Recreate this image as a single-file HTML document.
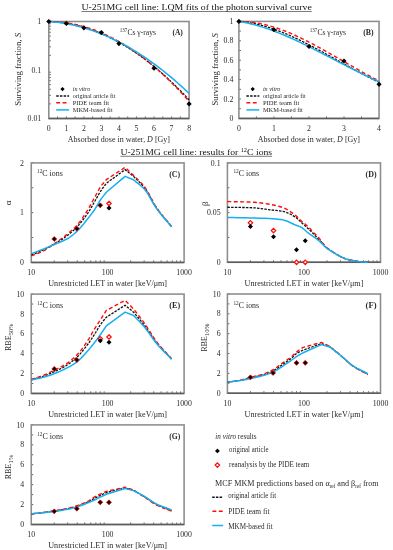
<!DOCTYPE html>
<html><head><meta charset="utf-8"><style>
html,body{margin:0;padding:0;background:#fff;}
svg{display:block;}
svg{font-family:"Liberation Serif", serif;fill:#2a2a2a;}
</style></head><body>
<svg width="393" height="550" viewBox="0 0 393 550">
<rect width="393" height="550" fill="#fff"/>
<text x="196.60" y="10.20" font-size="9.2" text-anchor="middle" textLength="230.4" lengthAdjust="spacingAndGlyphs" fill="#111">U-251MG cell line: LQM fits of the photon survival curve</text>
<line x1="81.40" y1="11.50" x2="311.80" y2="11.50" stroke="#444" stroke-width="0.7"/>
<text x="196.25" y="155.00" font-size="9.2" text-anchor="middle" textLength="151.7" lengthAdjust="spacingAndGlyphs" fill="#111">U-251MG cell line: results for <tspan font-size="6" dy="-3.2">12</tspan><tspan dy="3.2">C ions</tspan></text>
<line x1="120.40" y1="156.30" x2="272.10" y2="156.30" stroke="#444" stroke-width="0.7"/>
<line x1="57.57" y1="118.50" x2="57.57" y2="116.50" stroke="#3a3a3a" stroke-width="0.8"/>
<line x1="66.34" y1="118.50" x2="66.34" y2="116.50" stroke="#3a3a3a" stroke-width="0.8"/>
<line x1="75.11" y1="118.50" x2="75.11" y2="116.50" stroke="#3a3a3a" stroke-width="0.8"/>
<line x1="83.88" y1="118.50" x2="83.88" y2="116.50" stroke="#3a3a3a" stroke-width="0.8"/>
<line x1="92.64" y1="118.50" x2="92.64" y2="116.50" stroke="#3a3a3a" stroke-width="0.8"/>
<line x1="101.41" y1="118.50" x2="101.41" y2="116.50" stroke="#3a3a3a" stroke-width="0.8"/>
<line x1="110.18" y1="118.50" x2="110.18" y2="116.50" stroke="#3a3a3a" stroke-width="0.8"/>
<line x1="118.95" y1="118.50" x2="118.95" y2="116.50" stroke="#3a3a3a" stroke-width="0.8"/>
<line x1="127.72" y1="118.50" x2="127.72" y2="116.50" stroke="#3a3a3a" stroke-width="0.8"/>
<line x1="136.49" y1="118.50" x2="136.49" y2="116.50" stroke="#3a3a3a" stroke-width="0.8"/>
<line x1="145.26" y1="118.50" x2="145.26" y2="116.50" stroke="#3a3a3a" stroke-width="0.8"/>
<line x1="154.03" y1="118.50" x2="154.03" y2="116.50" stroke="#3a3a3a" stroke-width="0.8"/>
<line x1="162.79" y1="118.50" x2="162.79" y2="116.50" stroke="#3a3a3a" stroke-width="0.8"/>
<line x1="171.56" y1="118.50" x2="171.56" y2="116.50" stroke="#3a3a3a" stroke-width="0.8"/>
<line x1="180.33" y1="118.50" x2="180.33" y2="116.50" stroke="#3a3a3a" stroke-width="0.8"/>
<line x1="48.80" y1="103.90" x2="50.80" y2="103.90" stroke="#3a3a3a" stroke-width="0.8"/>
<line x1="48.80" y1="95.36" x2="50.80" y2="95.36" stroke="#3a3a3a" stroke-width="0.8"/>
<line x1="48.80" y1="89.30" x2="50.80" y2="89.30" stroke="#3a3a3a" stroke-width="0.8"/>
<line x1="48.80" y1="84.60" x2="50.80" y2="84.60" stroke="#3a3a3a" stroke-width="0.8"/>
<line x1="48.80" y1="80.76" x2="50.80" y2="80.76" stroke="#3a3a3a" stroke-width="0.8"/>
<line x1="48.80" y1="77.51" x2="50.80" y2="77.51" stroke="#3a3a3a" stroke-width="0.8"/>
<line x1="48.80" y1="74.70" x2="50.80" y2="74.70" stroke="#3a3a3a" stroke-width="0.8"/>
<line x1="48.80" y1="72.22" x2="50.80" y2="72.22" stroke="#3a3a3a" stroke-width="0.8"/>
<line x1="48.80" y1="55.40" x2="50.80" y2="55.40" stroke="#3a3a3a" stroke-width="0.8"/>
<line x1="48.80" y1="46.86" x2="50.80" y2="46.86" stroke="#3a3a3a" stroke-width="0.8"/>
<line x1="48.80" y1="40.80" x2="50.80" y2="40.80" stroke="#3a3a3a" stroke-width="0.8"/>
<line x1="48.80" y1="36.10" x2="50.80" y2="36.10" stroke="#3a3a3a" stroke-width="0.8"/>
<line x1="48.80" y1="32.26" x2="50.80" y2="32.26" stroke="#3a3a3a" stroke-width="0.8"/>
<line x1="48.80" y1="29.01" x2="50.80" y2="29.01" stroke="#3a3a3a" stroke-width="0.8"/>
<line x1="48.80" y1="26.20" x2="50.80" y2="26.20" stroke="#3a3a3a" stroke-width="0.8"/>
<line x1="48.80" y1="23.72" x2="50.80" y2="23.72" stroke="#3a3a3a" stroke-width="0.8"/>
<rect x="48.80" y="21.50" width="140.30" height="97.00" fill="none" stroke="#8c8c8c" stroke-width="1.55"/>
<path d="M48.80 118.50H189.10" fill="none" stroke="#5c5c5c" stroke-width="1.45"/>
<text x="48.80" y="130.60" font-size="7.8" text-anchor="middle">0</text>
<text x="66.34" y="130.60" font-size="7.8" text-anchor="middle">1</text>
<text x="83.88" y="130.60" font-size="7.8" text-anchor="middle">2</text>
<text x="101.41" y="130.60" font-size="7.8" text-anchor="middle">3</text>
<text x="118.95" y="130.60" font-size="7.8" text-anchor="middle">4</text>
<text x="136.49" y="130.60" font-size="7.8" text-anchor="middle">5</text>
<text x="154.03" y="130.60" font-size="7.8" text-anchor="middle">6</text>
<text x="171.56" y="130.60" font-size="7.8" text-anchor="middle">7</text>
<text x="189.10" y="130.60" font-size="7.8" text-anchor="middle">8</text>
<text x="41.20" y="24.10" font-size="7.8" text-anchor="end">1</text>
<text x="41.20" y="72.60" font-size="7.8" text-anchor="end">0.1</text>
<text x="41.20" y="121.10" font-size="7.8" text-anchor="end">0.01</text>
<text x="118.90" y="141.60" font-size="7.9" text-anchor="middle" textLength="102.2" lengthAdjust="spacingAndGlyphs">Absorbed dose in water, <tspan font-style="italic">D</tspan> [Gy]</text>
<text x="0.00" y="0.00" font-size="8.6" text-anchor="middle" textLength="72.8" lengthAdjust="spacingAndGlyphs" transform="translate(21.4 69.3) rotate(-90)">Surviving fraction, <tspan font-style="italic">S</tspan></text>
<text x="119.80" y="34.70" font-size="7.8" textLength="36.2" lengthAdjust="spacingAndGlyphs"><tspan font-size="5.2" dy="-2.9">137</tspan><tspan dy="2.9">Cs γ-rays</tspan></text>
<text x="182.80" y="34.90" font-size="8.5" text-anchor="end" font-weight="bold" textLength="10.4" lengthAdjust="spacingAndGlyphs">(A)</text>
<path d="M62.50 87.00L64.60 89.10L62.50 91.20L60.40 89.10Z" fill="#000" stroke="none" stroke-width="0"/>
<text x="72.70" y="91.20" font-size="7.1" font-style="italic" textLength="17.5" lengthAdjust="spacingAndGlyphs">in vitro</text>
<line x1="56.20" y1="96.00" x2="69.10" y2="96.00" stroke="#111" stroke-width="1.4" stroke-dasharray="2.5,1.2"/>
<text x="72.70" y="98.10" font-size="7.1" textLength="42.7" lengthAdjust="spacingAndGlyphs">original article fit</text>
<line x1="56.20" y1="102.70" x2="69.10" y2="102.70" stroke="#ff0d0d" stroke-width="1.4" stroke-dasharray="3.9,2.5"/>
<text x="72.70" y="104.90" font-size="7.1" textLength="36.5" lengthAdjust="spacingAndGlyphs">PIDE team fit</text>
<line x1="56.20" y1="109.90" x2="69.10" y2="109.90" stroke="#14aff0" stroke-width="1.5"/>
<text x="72.70" y="112.00" font-size="7.1" textLength="40.0" lengthAdjust="spacingAndGlyphs">MKM-based fit</text>
<polyline points="48.80,21.50 50.55,21.57 52.31,21.67 54.06,21.79 55.81,21.93 57.57,22.09 59.32,22.28 61.08,22.49 62.83,22.72 64.58,22.98 66.34,23.26 68.09,23.56 69.84,23.89 71.60,24.23 73.35,24.61 75.11,25.00 76.86,25.42 78.61,25.86 80.37,26.32 82.12,26.80 83.88,27.31 85.63,27.85 87.38,28.40 89.14,28.98 90.89,29.58 92.64,30.20 94.40,30.85 96.15,31.52 97.91,32.21 99.66,32.93 101.41,33.66 103.17,34.43 104.92,35.21 106.67,36.02 108.43,36.85 110.18,37.70 111.94,38.58 113.69,39.48 115.44,40.40 117.20,41.34 118.95,42.31 120.70,43.30 122.46,44.32 124.21,45.35 125.97,46.41 127.72,47.49 129.47,48.60 131.23,49.73 132.98,50.88 134.73,52.06 136.49,53.25 138.24,54.47 140.00,55.72 141.75,56.98 143.50,58.27 145.26,59.59 147.01,60.92 148.76,62.28 150.52,63.66 152.27,65.06 154.03,66.49 155.78,67.94 157.53,69.41 159.29,70.91 161.04,72.43 162.79,73.97 164.55,75.54 166.30,77.12 168.06,78.73 169.81,80.37 171.56,82.03 173.32,83.71 175.07,85.41 176.82,87.13 178.58,88.88 180.33,90.65 182.09,92.45 183.84,94.27 185.59,96.11 187.35,97.97 189.10,99.86" fill="none" stroke="#111" stroke-width="1.3" stroke-linejoin="round" stroke-linecap="butt" stroke-dasharray="2.5,1.2"/>
<polyline points="48.80,21.50 50.55,21.52 52.31,21.56 54.06,21.62 55.81,21.72 57.57,21.83 59.32,21.97 61.08,22.14 62.83,22.33 64.58,22.54 66.34,22.78 68.09,23.05 69.84,23.34 71.60,23.65 73.35,23.99 75.11,24.36 76.86,24.75 78.61,25.16 80.37,25.60 82.12,26.07 83.88,26.56 85.63,27.07 87.38,27.61 89.14,28.17 90.89,28.76 92.64,29.37 94.40,30.01 96.15,30.67 97.91,31.36 99.66,32.07 101.41,32.81 103.17,33.57 104.92,34.36 106.67,35.17 108.43,36.01 110.18,36.87 111.94,37.76 113.69,38.67 115.44,39.61 117.20,40.57 118.95,41.55 120.70,42.56 122.46,43.60 124.21,44.66 125.97,45.74 127.72,46.85 129.47,47.99 131.23,49.15 132.98,50.33 134.73,51.54 136.49,52.78 138.24,54.04 140.00,55.32 141.75,56.63 143.50,57.97 145.26,59.32 147.01,60.71 148.76,62.12 150.52,63.55 152.27,65.01 154.03,66.49 155.78,68.00 157.53,69.53 159.29,71.09 161.04,72.67 162.79,74.28 164.55,75.91 166.30,77.57 168.06,79.25 169.81,80.96 171.56,82.69 173.32,84.45 175.07,86.23 176.82,88.03 178.58,89.86 180.33,91.72 182.09,93.60 183.84,95.51 185.59,97.44 187.35,99.39 189.10,101.37" fill="none" stroke="#ff0d0d" stroke-width="1.4" stroke-linejoin="round" stroke-linecap="butt" stroke-dasharray="3.9,2.5"/>
<polyline points="48.80,21.50 50.55,21.63 52.31,21.79 54.06,21.96 55.81,22.15 57.57,22.36 59.32,22.59 61.08,22.84 62.83,23.11 64.58,23.40 66.34,23.71 68.09,24.04 69.84,24.39 71.60,24.75 73.35,25.14 75.11,25.54 76.86,25.97 78.61,26.41 80.37,26.88 82.12,27.36 83.88,27.86 85.63,28.38 87.38,28.92 89.14,29.48 90.89,30.06 92.64,30.66 94.40,31.28 96.15,31.92 97.91,32.58 99.66,33.25 101.41,33.95 103.17,34.66 104.92,35.40 106.67,36.15 108.43,36.93 110.18,37.72 111.94,38.53 113.69,39.36 115.44,40.21 117.20,41.08 118.95,41.97 120.70,42.88 122.46,43.81 124.21,44.76 125.97,45.73 127.72,46.71 129.47,47.72 131.23,48.74 132.98,49.79 134.73,50.85 136.49,51.94 138.24,53.04 140.00,54.16 141.75,55.30 143.50,56.46 145.26,57.64 147.01,58.84 148.76,60.06 150.52,61.30 152.27,62.56 154.03,63.84 155.78,65.13 157.53,66.45 159.29,67.79 161.04,69.14 162.79,70.51 164.55,71.91 166.30,73.32 168.06,74.75 169.81,76.20 171.56,77.68 173.32,79.17 175.07,80.68 176.82,82.21 178.58,83.75 180.33,85.32 182.09,86.91 183.84,88.52 185.59,90.14 187.35,91.79 189.10,93.45" fill="none" stroke="#14aff0" stroke-width="1.5" stroke-linejoin="round" stroke-linecap="butt"/>
<path d="M48.80 18.90L51.40 21.50L48.80 24.10L46.20 21.50Z" fill="#000" stroke="none" stroke-width="0"/>
<path d="M66.34 20.79L68.94 23.39L66.34 25.99L63.74 23.39Z" fill="#000" stroke="none" stroke-width="0"/>
<path d="M83.88 25.24L86.47 27.84L83.88 30.44L81.28 27.84Z" fill="#000" stroke="none" stroke-width="0"/>
<path d="M101.41 30.01L104.01 32.61L101.41 35.21L98.81 32.61Z" fill="#000" stroke="none" stroke-width="0"/>
<path d="M118.95 41.01L121.55 43.61L118.95 46.21L116.35 43.61Z" fill="#000" stroke="none" stroke-width="0"/>
<path d="M154.03 65.58L156.62 68.18L154.03 70.78L151.43 68.18Z" fill="#000" stroke="none" stroke-width="0"/>
<path d="M189.10 101.30L191.70 103.90L189.10 106.50L186.50 103.90Z" fill="#000" stroke="none" stroke-width="0"/>
<line x1="256.42" y1="118.40" x2="256.42" y2="116.40" stroke="#3a3a3a" stroke-width="0.8"/>
<line x1="273.94" y1="118.40" x2="273.94" y2="116.40" stroke="#3a3a3a" stroke-width="0.8"/>
<line x1="291.46" y1="118.40" x2="291.46" y2="116.40" stroke="#3a3a3a" stroke-width="0.8"/>
<line x1="308.98" y1="118.40" x2="308.98" y2="116.40" stroke="#3a3a3a" stroke-width="0.8"/>
<line x1="326.49" y1="118.40" x2="326.49" y2="116.40" stroke="#3a3a3a" stroke-width="0.8"/>
<line x1="344.01" y1="118.40" x2="344.01" y2="116.40" stroke="#3a3a3a" stroke-width="0.8"/>
<line x1="361.53" y1="118.40" x2="361.53" y2="116.40" stroke="#3a3a3a" stroke-width="0.8"/>
<line x1="238.90" y1="108.70" x2="240.90" y2="108.70" stroke="#3a3a3a" stroke-width="0.8"/>
<line x1="238.90" y1="99.00" x2="240.90" y2="99.00" stroke="#3a3a3a" stroke-width="0.8"/>
<line x1="238.90" y1="89.30" x2="240.90" y2="89.30" stroke="#3a3a3a" stroke-width="0.8"/>
<line x1="238.90" y1="79.60" x2="240.90" y2="79.60" stroke="#3a3a3a" stroke-width="0.8"/>
<line x1="238.90" y1="69.90" x2="240.90" y2="69.90" stroke="#3a3a3a" stroke-width="0.8"/>
<line x1="238.90" y1="60.20" x2="240.90" y2="60.20" stroke="#3a3a3a" stroke-width="0.8"/>
<line x1="238.90" y1="50.50" x2="240.90" y2="50.50" stroke="#3a3a3a" stroke-width="0.8"/>
<line x1="238.90" y1="40.80" x2="240.90" y2="40.80" stroke="#3a3a3a" stroke-width="0.8"/>
<line x1="238.90" y1="31.10" x2="240.90" y2="31.10" stroke="#3a3a3a" stroke-width="0.8"/>
<rect x="238.90" y="21.40" width="140.15" height="97.00" fill="none" stroke="#8c8c8c" stroke-width="1.55"/>
<path d="M238.90 118.40H379.05" fill="none" stroke="#5c5c5c" stroke-width="1.45"/>
<text x="238.90" y="130.60" font-size="7.8" text-anchor="middle">0</text>
<text x="273.94" y="130.60" font-size="7.8" text-anchor="middle">1</text>
<text x="308.98" y="130.60" font-size="7.8" text-anchor="middle">2</text>
<text x="344.01" y="130.60" font-size="7.8" text-anchor="middle">3</text>
<text x="379.05" y="130.60" font-size="7.8" text-anchor="middle">4</text>
<text x="233.30" y="24.00" font-size="7.8" text-anchor="end">1</text>
<text x="233.30" y="43.40" font-size="7.8" text-anchor="end">0.8</text>
<text x="233.30" y="62.80" font-size="7.8" text-anchor="end">0.6</text>
<text x="233.30" y="82.20" font-size="7.8" text-anchor="end">0.4</text>
<text x="233.30" y="101.60" font-size="7.8" text-anchor="end">0.2</text>
<text x="233.30" y="121.00" font-size="7.8" text-anchor="end">0</text>
<text x="308.90" y="141.60" font-size="7.9" text-anchor="middle" textLength="102.2" lengthAdjust="spacingAndGlyphs">Absorbed dose in water, <tspan font-style="italic">D</tspan> [Gy]</text>
<text x="0.00" y="0.00" font-size="8.6" text-anchor="middle" textLength="72.4" lengthAdjust="spacingAndGlyphs" transform="translate(218.3 69.3) rotate(-90)">Surviving fraction, <tspan font-style="italic">S</tspan></text>
<text x="309.80" y="34.70" font-size="7.8" textLength="36.2" lengthAdjust="spacingAndGlyphs"><tspan font-size="5.2" dy="-2.9">137</tspan><tspan dy="2.9">Cs γ-rays</tspan></text>
<text x="373.60" y="34.90" font-size="8.5" text-anchor="end" font-weight="bold" textLength="10.4" lengthAdjust="spacingAndGlyphs">(B)</text>
<path d="M252.70 87.00L254.80 89.10L252.70 91.20L250.60 89.10Z" fill="#000" stroke="none" stroke-width="0"/>
<text x="262.90" y="91.20" font-size="7.1" font-style="italic" textLength="17.5" lengthAdjust="spacingAndGlyphs">in vitro</text>
<line x1="246.40" y1="96.00" x2="259.30" y2="96.00" stroke="#111" stroke-width="1.4" stroke-dasharray="2.5,1.2"/>
<text x="262.90" y="98.10" font-size="7.1" textLength="42.7" lengthAdjust="spacingAndGlyphs">original article fit</text>
<line x1="246.40" y1="102.70" x2="259.30" y2="102.70" stroke="#ff0d0d" stroke-width="1.4" stroke-dasharray="3.9,2.5"/>
<text x="262.90" y="104.90" font-size="7.1" textLength="36.5" lengthAdjust="spacingAndGlyphs">PIDE team fit</text>
<line x1="246.40" y1="109.90" x2="259.30" y2="109.90" stroke="#14aff0" stroke-width="1.5"/>
<text x="262.90" y="112.00" font-size="7.1" textLength="40.0" lengthAdjust="spacingAndGlyphs">MKM-based fit</text>
<polyline points="238.90,21.40 240.65,21.55 242.40,21.73 244.16,21.94 245.91,22.17 247.66,22.43 249.41,22.71 251.16,23.02 252.92,23.35 254.67,23.71 256.42,24.09 258.17,24.50 259.92,24.93 261.67,25.38 263.43,25.85 265.18,26.35 266.93,26.87 268.68,27.42 270.43,27.98 272.19,28.56 273.94,29.17 275.69,29.80 277.44,30.44 279.19,31.11 280.94,31.79 282.70,32.49 284.45,33.21 286.20,33.94 287.95,34.70 289.70,35.46 291.46,36.25 293.21,37.04 294.96,37.86 296.71,38.68 298.46,39.52 300.22,40.37 301.97,41.24 303.72,42.11 305.47,43.00 307.22,43.89 308.98,44.80 310.73,45.71 312.48,46.63 314.23,47.56 315.98,48.50 317.73,49.44 319.49,50.39 321.24,51.34 322.99,52.30 324.74,53.26 326.49,54.23 328.25,55.20 330.00,56.17 331.75,57.14 333.50,58.11 335.25,59.09 337.00,60.06 338.76,61.04 340.51,62.01 342.26,62.98 344.01,63.95 345.76,64.92 347.52,65.89 349.27,66.85 351.02,67.81 352.77,68.76 354.52,69.71 356.28,70.65 358.03,71.59 359.78,72.52 361.53,73.45 363.28,74.37 365.04,75.28 366.79,76.18 368.54,77.08 370.29,77.97 372.04,78.85 373.79,79.72 375.55,80.59 377.30,81.44 379.05,82.28" fill="none" stroke="#111" stroke-width="1.3" stroke-linejoin="round" stroke-linecap="butt" stroke-dasharray="2.5,1.2"/>
<polyline points="238.90,21.40 240.65,21.42 242.40,21.48 244.16,21.56 245.91,21.67 247.66,21.81 249.41,21.97 251.16,22.17 252.92,22.39 254.67,22.64 256.42,22.92 258.17,23.22 259.92,23.55 261.67,23.91 263.43,24.30 265.18,24.71 266.93,25.14 268.68,25.61 270.43,26.09 272.19,26.60 273.94,27.14 275.69,27.70 277.44,28.28 279.19,28.89 280.94,29.51 282.70,30.16 284.45,30.83 286.20,31.52 287.95,32.23 289.70,32.96 291.46,33.71 293.21,34.48 294.96,35.26 296.71,36.07 298.46,36.88 300.22,37.72 301.97,38.57 303.72,39.43 305.47,40.31 307.22,41.20 308.98,42.10 310.73,43.01 312.48,43.94 314.23,44.87 315.98,45.82 317.73,46.77 319.49,47.73 321.24,48.70 322.99,49.68 324.74,50.66 326.49,51.65 328.25,52.64 330.00,53.64 331.75,54.64 333.50,55.65 335.25,56.65 337.00,57.66 338.76,58.67 340.51,59.68 342.26,60.69 344.01,61.70 345.76,62.71 347.52,63.72 349.27,64.72 351.02,65.72 352.77,66.72 354.52,67.72 356.28,68.71 358.03,69.69 359.78,70.67 361.53,71.64 363.28,72.61 365.04,73.57 366.79,74.52 368.54,75.47 370.29,76.41 372.04,77.34 373.79,78.26 375.55,79.17 377.30,80.07 379.05,80.96" fill="none" stroke="#ff0d0d" stroke-width="1.4" stroke-linejoin="round" stroke-linecap="butt" stroke-dasharray="3.9,2.5"/>
<polyline points="238.90,21.40 240.65,21.70 242.40,22.01 244.16,22.35 245.91,22.71 247.66,23.09 249.41,23.50 251.16,23.92 252.92,24.36 254.67,24.82 256.42,25.30 258.17,25.79 259.92,26.31 261.67,26.85 263.43,27.40 265.18,27.97 266.93,28.56 268.68,29.16 270.43,29.78 272.19,30.42 273.94,31.07 275.69,31.74 277.44,32.42 279.19,33.11 280.94,33.82 282.70,34.55 284.45,35.28 286.20,36.03 287.95,36.79 289.70,37.56 291.46,38.35 293.21,39.14 294.96,39.94 296.71,40.76 298.46,41.58 300.22,42.41 301.97,43.25 303.72,44.10 305.47,44.95 307.22,45.82 308.98,46.68 310.73,47.56 312.48,48.44 314.23,49.32 315.98,50.21 317.73,51.10 319.49,52.00 321.24,52.90 322.99,53.80 324.74,54.71 326.49,55.62 328.25,56.52 330.00,57.43 331.75,58.34 333.50,59.25 335.25,60.16 337.00,61.07 338.76,61.97 340.51,62.88 342.26,63.78 344.01,64.68 345.76,65.58 347.52,66.48 349.27,67.37 351.02,68.26 352.77,69.14 354.52,70.02 356.28,70.90 358.03,71.77 359.78,72.63 361.53,73.49 363.28,74.34 365.04,75.19 366.79,76.03 368.54,76.86 370.29,77.69 372.04,78.50 373.79,79.32 375.55,80.12 377.30,80.91 379.05,81.70" fill="none" stroke="#14aff0" stroke-width="1.5" stroke-linejoin="round" stroke-linecap="butt"/>
<path d="M238.90 18.80L241.50 21.40L238.90 24.00L236.30 21.40Z" fill="#000" stroke="none" stroke-width="0"/>
<path d="M273.94 27.14L276.54 29.74L273.94 32.34L271.34 29.74Z" fill="#000" stroke="none" stroke-width="0"/>
<path d="M308.98 43.92L311.58 46.52L308.98 49.12L306.38 46.52Z" fill="#000" stroke="none" stroke-width="0"/>
<path d="M344.01 58.38L346.61 60.98L344.01 63.58L341.41 60.98Z" fill="#000" stroke="none" stroke-width="0"/>
<path d="M379.05 81.75L381.65 84.35L379.05 86.95L376.45 84.35Z" fill="#000" stroke="none" stroke-width="0"/>
<line x1="54.26" y1="262.40" x2="54.26" y2="260.40" stroke="#3a3a3a" stroke-width="0.8"/>
<line x1="67.71" y1="262.40" x2="67.71" y2="260.40" stroke="#3a3a3a" stroke-width="0.8"/>
<line x1="77.26" y1="262.40" x2="77.26" y2="260.40" stroke="#3a3a3a" stroke-width="0.8"/>
<line x1="84.67" y1="262.40" x2="84.67" y2="260.40" stroke="#3a3a3a" stroke-width="0.8"/>
<line x1="90.72" y1="262.40" x2="90.72" y2="260.40" stroke="#3a3a3a" stroke-width="0.8"/>
<line x1="95.84" y1="262.40" x2="95.84" y2="260.40" stroke="#3a3a3a" stroke-width="0.8"/>
<line x1="100.27" y1="262.40" x2="100.27" y2="260.40" stroke="#3a3a3a" stroke-width="0.8"/>
<line x1="104.18" y1="262.40" x2="104.18" y2="260.40" stroke="#3a3a3a" stroke-width="0.8"/>
<line x1="130.68" y1="262.40" x2="130.68" y2="260.40" stroke="#3a3a3a" stroke-width="0.8"/>
<line x1="144.14" y1="262.40" x2="144.14" y2="260.40" stroke="#3a3a3a" stroke-width="0.8"/>
<line x1="153.69" y1="262.40" x2="153.69" y2="260.40" stroke="#3a3a3a" stroke-width="0.8"/>
<line x1="161.09" y1="262.40" x2="161.09" y2="260.40" stroke="#3a3a3a" stroke-width="0.8"/>
<line x1="167.15" y1="262.40" x2="167.15" y2="260.40" stroke="#3a3a3a" stroke-width="0.8"/>
<line x1="172.26" y1="262.40" x2="172.26" y2="260.40" stroke="#3a3a3a" stroke-width="0.8"/>
<line x1="176.69" y1="262.40" x2="176.69" y2="260.40" stroke="#3a3a3a" stroke-width="0.8"/>
<line x1="180.60" y1="262.40" x2="180.60" y2="260.40" stroke="#3a3a3a" stroke-width="0.8"/>
<line x1="31.25" y1="237.52" x2="33.25" y2="237.52" stroke="#3a3a3a" stroke-width="0.8"/>
<line x1="31.25" y1="187.78" x2="33.25" y2="187.78" stroke="#3a3a3a" stroke-width="0.8"/>
<line x1="31.25" y1="262.40" x2="33.25" y2="262.40" stroke="#3a3a3a" stroke-width="0.8"/>
<line x1="31.25" y1="212.65" x2="33.25" y2="212.65" stroke="#3a3a3a" stroke-width="0.8"/>
<line x1="31.25" y1="162.90" x2="33.25" y2="162.90" stroke="#3a3a3a" stroke-width="0.8"/>
<rect x="31.25" y="162.90" width="152.85" height="99.50" fill="none" stroke="#8c8c8c" stroke-width="1.55"/>
<path d="M31.25 262.40H184.10" fill="none" stroke="#5c5c5c" stroke-width="1.45"/>
<text x="31.25" y="274.90" font-size="7.8" text-anchor="middle">10</text>
<text x="107.67" y="274.90" font-size="7.8" text-anchor="middle">100</text>
<text x="184.10" y="274.90" font-size="7.8" text-anchor="middle">1000</text>
<text x="24.00" y="265.00" font-size="7.8" text-anchor="end">0</text>
<text x="24.00" y="215.25" font-size="7.8" text-anchor="end">1</text>
<text x="24.00" y="165.50" font-size="7.8" text-anchor="end">2</text>
<text x="107.67" y="285.90" font-size="7.9" text-anchor="middle" textLength="118.8" lengthAdjust="spacingAndGlyphs">Unrestricted LET in water [keV/μm]</text>
<text x="0.00" y="0.00" font-size="9" text-anchor="middle" transform="translate(11.2 202.9) rotate(-90)">α</text>
<text x="37.00" y="176.30" font-size="7.8" textLength="25.8" lengthAdjust="spacingAndGlyphs"><tspan font-size="5.2" dy="-2.9">12</tspan><tspan dy="2.9">C ions</tspan></text>
<text x="180.20" y="176.50" font-size="8.5" text-anchor="end" font-weight="bold" textLength="11.0" lengthAdjust="spacingAndGlyphs">(C)</text>
<polyline points="31.25,254.94 32.65,254.39 34.04,253.85 35.44,253.32 36.83,252.78 38.23,252.24 39.63,251.67 41.02,251.08 42.42,250.46 43.90,249.75 45.38,249.01 46.86,248.23 48.34,247.42 49.82,246.58 51.30,245.73 52.78,244.87 54.26,243.99 55.94,243.00 57.62,242.00 59.30,240.98 60.99,239.93 62.67,238.85 64.35,237.72 66.03,236.54 67.71,235.29 68.91,234.35 70.10,233.37 71.29,232.35 72.49,231.28 73.68,230.17 74.88,229.02 76.07,227.82 77.26,226.58 78.58,225.14 79.90,223.63 81.23,222.05 82.55,220.40 83.87,218.69 85.19,216.90 86.51,215.06 87.83,213.15 88.71,211.81 89.59,210.40 90.47,208.92 91.35,207.40 92.23,205.86 93.11,204.30 93.99,202.74 94.87,201.21 95.55,200.03 96.22,198.82 96.90,197.59 97.57,196.37 98.25,195.16 98.92,193.98 99.59,192.84 100.27,191.75 101.03,190.60 101.78,189.50 102.54,188.44 103.29,187.40 104.05,186.38 104.81,185.37 105.56,184.34 106.32,183.30 125.09,169.62 133.54,176.33 134.91,177.73 136.27,179.07 137.64,180.40 139.01,181.73 140.37,183.10 141.74,184.55 143.10,186.10 144.47,187.78 145.99,189.91 147.51,192.34 149.03,194.99 150.55,197.75 152.07,200.54 153.59,203.27 155.10,205.84 156.62,208.17 158.48,210.75 160.34,213.18 162.20,215.50 164.06,217.74 165.92,219.93 167.78,222.11 169.64,224.32 171.49,226.58" fill="none" stroke="#111" stroke-width="1.3" stroke-linejoin="round" stroke-linecap="butt" stroke-dasharray="2.5,1.2"/>
<polyline points="31.25,255.93 32.65,255.39 34.04,254.86 35.44,254.35 36.83,253.83 38.23,253.29 39.63,252.72 41.02,252.12 42.42,251.45 43.90,250.67 45.38,249.81 46.86,248.88 48.34,247.89 49.82,246.87 51.30,245.83 52.78,244.78 54.26,243.74 55.94,242.58 57.62,241.41 59.30,240.22 60.99,239.01 62.67,237.76 64.35,236.49 66.03,235.17 67.71,233.79 68.91,232.80 70.10,231.78 71.29,230.74 72.49,229.67 73.68,228.55 74.88,227.38 76.07,226.15 77.26,224.84 78.58,223.28 79.90,221.59 81.23,219.78 82.55,217.89 83.87,215.91 85.19,213.87 86.51,211.78 87.83,209.66 88.71,208.21 89.59,206.68 90.47,205.10 91.35,203.49 92.23,201.85 93.11,200.21 93.99,198.58 94.87,196.98 95.55,195.74 96.22,194.48 96.90,193.20 97.57,191.92 98.25,190.68 98.92,189.47 99.59,188.33 100.27,187.28 101.03,186.18 101.78,185.16 102.54,184.19 103.29,183.25 104.05,182.34 104.81,181.43 105.56,180.51 106.32,179.57 125.09,167.38 133.54,175.34 134.91,176.73 136.27,178.07 137.64,179.39 139.01,180.72 140.37,182.09 141.74,183.54 143.10,185.09 144.47,186.78 145.99,188.94 147.51,191.43 149.03,194.14 150.55,196.98 152.07,199.85 153.59,202.66 155.10,205.30 156.62,207.67 158.48,210.30 160.34,212.76 162.20,215.11 164.06,217.38 165.92,219.60 167.78,221.81 169.64,224.04 171.49,226.33" fill="none" stroke="#ff0d0d" stroke-width="1.4" stroke-linejoin="round" stroke-linecap="butt" stroke-dasharray="3.9,2.5"/>
<polyline points="31.25,253.69 32.65,253.17 34.04,252.65 35.44,252.13 36.83,251.61 38.23,251.08 39.63,250.55 41.02,250.01 42.42,249.46 43.90,248.87 45.38,248.26 46.86,247.65 48.34,247.03 49.82,246.40 51.30,245.76 52.78,245.13 54.26,244.49 55.94,243.78 57.62,243.10 59.30,242.43 60.99,241.75 62.67,241.03 64.35,240.27 66.03,239.44 67.71,238.52 68.91,237.80 70.10,237.00 71.29,236.14 72.49,235.22 73.68,234.25 74.88,233.22 76.07,232.16 77.26,231.06 78.58,229.76 79.90,228.35 81.23,226.84 82.55,225.27 83.87,223.64 85.19,221.97 86.51,220.29 87.83,218.62 88.71,217.51 89.59,216.39 90.47,215.25 91.35,214.10 92.23,212.92 93.11,211.71 93.99,210.46 94.87,209.17 95.55,208.12 96.22,207.01 96.90,205.85 97.57,204.68 98.25,203.50 98.92,202.35 99.59,201.25 100.27,200.21 101.03,199.13 101.78,198.09 102.54,197.09 103.29,196.11 104.05,195.15 104.81,194.20 105.56,193.23 106.32,192.25 125.09,176.33 133.54,179.81 134.91,180.96 136.27,182.05 137.64,183.12 139.01,184.20 140.37,185.32 141.74,186.52 143.10,187.82 144.47,189.27 145.99,191.17 147.51,193.42 149.03,195.92 150.55,198.56 152.07,201.26 153.59,203.91 155.10,206.41 156.62,208.67 158.48,211.17 160.34,213.53 162.20,215.80 164.06,218.00 165.92,220.15 167.78,222.30 169.64,224.46 171.49,226.68" fill="none" stroke="#14aff0" stroke-width="1.5" stroke-linejoin="round" stroke-linecap="butt"/>
<path d="M108.98 201.30L111.18 203.50L108.98 205.70L106.78 203.50Z" fill="#fff" stroke="#ff0d0d" stroke-width="1.25"/>
<path d="M108.98 205.52L111.48 208.02L108.98 210.52L106.48 208.02Z" fill="#000" stroke="none" stroke-width="0"/>
<path d="M54.26 236.42L56.86 239.02L54.26 241.62L51.66 239.02Z" fill="#000" stroke="none" stroke-width="0"/>
<path d="M54.26 236.62L56.66 239.02L54.26 241.42L51.86 239.02Z" fill="none" stroke="#ff0d0d" stroke-width="0.8"/>
<path d="M76.84 226.12L79.44 228.72L76.84 231.32L74.24 228.72Z" fill="#000" stroke="none" stroke-width="0"/>
<path d="M76.84 226.32L79.24 228.72L76.84 231.12L74.44 228.72Z" fill="none" stroke="#ff0d0d" stroke-width="0.8"/>
<path d="M100.27 202.69L102.87 205.29L100.27 207.89L97.67 205.29Z" fill="#000" stroke="none" stroke-width="0"/>
<path d="M100.27 202.89L102.67 205.29L100.27 207.69L97.87 205.29Z" fill="none" stroke="#ff0d0d" stroke-width="0.8"/>
<line x1="250.44" y1="262.30" x2="250.44" y2="260.30" stroke="#3a3a3a" stroke-width="0.8"/>
<line x1="263.92" y1="262.30" x2="263.92" y2="260.30" stroke="#3a3a3a" stroke-width="0.8"/>
<line x1="273.49" y1="262.30" x2="273.49" y2="260.30" stroke="#3a3a3a" stroke-width="0.8"/>
<line x1="280.91" y1="262.30" x2="280.91" y2="260.30" stroke="#3a3a3a" stroke-width="0.8"/>
<line x1="286.97" y1="262.30" x2="286.97" y2="260.30" stroke="#3a3a3a" stroke-width="0.8"/>
<line x1="292.09" y1="262.30" x2="292.09" y2="260.30" stroke="#3a3a3a" stroke-width="0.8"/>
<line x1="296.53" y1="262.30" x2="296.53" y2="260.30" stroke="#3a3a3a" stroke-width="0.8"/>
<line x1="300.45" y1="262.30" x2="300.45" y2="260.30" stroke="#3a3a3a" stroke-width="0.8"/>
<line x1="326.99" y1="262.30" x2="326.99" y2="260.30" stroke="#3a3a3a" stroke-width="0.8"/>
<line x1="340.47" y1="262.30" x2="340.47" y2="260.30" stroke="#3a3a3a" stroke-width="0.8"/>
<line x1="350.04" y1="262.30" x2="350.04" y2="260.30" stroke="#3a3a3a" stroke-width="0.8"/>
<line x1="357.46" y1="262.30" x2="357.46" y2="260.30" stroke="#3a3a3a" stroke-width="0.8"/>
<line x1="363.52" y1="262.30" x2="363.52" y2="260.30" stroke="#3a3a3a" stroke-width="0.8"/>
<line x1="368.64" y1="262.30" x2="368.64" y2="260.30" stroke="#3a3a3a" stroke-width="0.8"/>
<line x1="373.08" y1="262.30" x2="373.08" y2="260.30" stroke="#3a3a3a" stroke-width="0.8"/>
<line x1="377.00" y1="262.30" x2="377.00" y2="260.30" stroke="#3a3a3a" stroke-width="0.8"/>
<line x1="227.40" y1="237.45" x2="229.40" y2="237.45" stroke="#3a3a3a" stroke-width="0.8"/>
<line x1="227.40" y1="187.75" x2="229.40" y2="187.75" stroke="#3a3a3a" stroke-width="0.8"/>
<line x1="227.40" y1="262.30" x2="229.40" y2="262.30" stroke="#3a3a3a" stroke-width="0.8"/>
<line x1="227.40" y1="212.60" x2="229.40" y2="212.60" stroke="#3a3a3a" stroke-width="0.8"/>
<line x1="227.40" y1="162.90" x2="229.40" y2="162.90" stroke="#3a3a3a" stroke-width="0.8"/>
<rect x="227.40" y="162.90" width="153.10" height="99.40" fill="none" stroke="#8c8c8c" stroke-width="1.55"/>
<path d="M227.40 262.30H380.50" fill="none" stroke="#5c5c5c" stroke-width="1.45"/>
<text x="227.40" y="274.90" font-size="7.8" text-anchor="middle">10</text>
<text x="303.95" y="274.90" font-size="7.8" text-anchor="middle">100</text>
<text x="380.50" y="274.90" font-size="7.8" text-anchor="middle">1000</text>
<text x="220.60" y="264.90" font-size="7.8" text-anchor="end">0</text>
<text x="220.60" y="215.20" font-size="7.8" text-anchor="end">0.05</text>
<text x="220.60" y="165.50" font-size="7.8" text-anchor="end">0.1</text>
<text x="303.95" y="285.90" font-size="7.9" text-anchor="middle" textLength="118.8" lengthAdjust="spacingAndGlyphs">Unrestricted LET in water [keV/μm]</text>
<text x="0.00" y="0.00" font-size="9" text-anchor="middle" transform="translate(208.2 203.6) rotate(-90)">β</text>
<text x="233.40" y="176.30" font-size="7.8" textLength="25.8" lengthAdjust="spacingAndGlyphs"><tspan font-size="5.2" dy="-2.9">12</tspan><tspan dy="2.9">C ions</tspan></text>
<text x="376.60" y="176.50" font-size="8.5" text-anchor="end" font-weight="bold" textLength="11.0" lengthAdjust="spacingAndGlyphs">(D)</text>
<polyline points="227.40,207.23 230.50,207.29 233.61,207.34 236.71,207.38 239.81,207.43 242.91,207.49 246.02,207.55 249.12,207.63 252.22,207.73 254.44,207.85 256.66,208.05 258.88,208.30 261.10,208.59 263.32,208.91 265.54,209.23 267.76,209.54 269.98,209.82 271.58,209.99 273.17,210.15 274.76,210.30 276.35,210.45 277.94,210.62 279.53,210.81 281.13,211.04 282.72,211.31 284.29,211.67 285.86,212.17 287.44,212.78 289.01,213.49 290.58,214.29 292.16,215.17 293.73,216.10 295.30,217.07 296.07,217.60 296.83,218.21 297.59,218.88 298.35,219.60 299.11,220.35 299.87,221.10 300.63,221.83 301.39,222.54 302.25,223.31 303.11,224.07 303.96,224.82 304.82,225.58 305.68,226.35 306.53,227.12 307.39,227.90 308.25,228.70 308.98,229.39 309.71,230.09 310.44,230.80 311.17,231.51 311.90,232.23 312.64,232.97 313.37,233.71 314.10,234.47 314.62,235.02 315.13,235.59 315.65,236.18 316.17,236.76 316.69,237.35 317.20,237.93 317.72,238.50 318.24,239.04 318.68,239.48 319.12,239.90 319.56,240.31 320.00,240.72 320.44,241.12 320.88,241.54 321.33,241.97 321.77,242.42 322.23,242.94 322.69,243.50 323.15,244.08 323.61,244.67 324.08,245.26 324.54,245.82 325.00,246.34 325.46,246.79 326.43,247.64 327.40,248.42 328.36,249.14 329.33,249.82 330.29,250.46 331.26,251.07 332.23,251.67 333.19,252.26 334.66,253.17 336.13,254.07 337.59,254.95 339.06,255.80 340.53,256.59 341.99,257.32 343.46,257.97 344.93,258.52 346.00,258.87 347.07,259.20 348.14,259.50 349.22,259.77 350.29,260.03 351.36,260.27 352.43,260.50 353.51,260.71 354.47,260.89 355.44,261.07 356.40,261.25 357.37,261.41 358.33,261.56 359.29,261.69 360.26,261.81 361.22,261.90 362.05,261.97 362.87,262.03 363.70,262.08 364.52,262.12 365.35,262.17 366.17,262.21 367.00,262.25 367.82,262.30" fill="none" stroke="#111" stroke-width="1.3" stroke-linejoin="round" stroke-linecap="butt" stroke-dasharray="2.5,1.2"/>
<polyline points="227.40,201.57 230.50,201.64 233.61,201.70 236.71,201.75 239.81,201.81 242.91,201.87 246.02,201.95 249.12,202.05 252.22,202.16 254.44,202.29 256.66,202.47 258.88,202.70 261.10,202.98 263.32,203.29 265.54,203.62 267.76,203.98 269.98,204.35 271.58,204.63 273.17,204.94 274.76,205.27 276.35,205.64 277.94,206.05 279.53,206.50 281.13,206.99 282.72,207.53 284.29,208.16 285.86,208.92 287.44,209.80 289.01,210.77 290.58,211.82 292.16,212.94 293.73,214.10 295.30,215.28 296.07,215.90 296.83,216.56 297.59,217.28 298.35,218.02 299.11,218.77 299.87,219.52 300.63,220.25 301.39,220.95 302.25,221.70 303.11,222.42 303.96,223.13 304.82,223.83 305.68,224.54 306.53,225.27 307.39,226.02 308.25,226.81 308.98,227.54 309.71,228.30 310.44,229.09 311.17,229.90 311.90,230.72 312.64,231.53 313.37,232.32 314.10,233.08 314.62,233.58 315.13,234.06 315.65,234.53 316.17,235.00 316.69,235.47 317.20,235.96 317.72,236.49 318.24,237.05 318.68,237.58 319.12,238.16 319.56,238.78 320.00,239.42 320.44,240.07 320.88,240.71 321.33,241.33 321.77,241.92 322.23,242.52 322.69,243.13 323.15,243.73 323.61,244.32 324.08,244.89 324.54,245.43 325.00,245.93 325.46,246.40 326.43,247.28 327.40,248.10 328.36,248.86 329.33,249.58 330.29,250.26 331.26,250.91 332.23,251.54 333.19,252.16 334.66,253.09 336.13,254.02 337.59,254.91 339.06,255.77 340.53,256.58 341.99,257.32 343.46,257.97 344.93,258.52 346.00,258.87 347.07,259.20 348.14,259.50 349.22,259.78 350.29,260.03 351.36,260.27 352.43,260.50 353.51,260.71 354.47,260.89 355.44,261.07 356.40,261.25 357.37,261.41 358.33,261.56 359.29,261.69 360.26,261.81 361.22,261.90 362.05,261.97 362.87,262.03 363.70,262.08 364.52,262.12 365.35,262.17 366.17,262.21 367.00,262.25 367.82,262.30" fill="none" stroke="#ff0d0d" stroke-width="1.4" stroke-linejoin="round" stroke-linecap="butt" stroke-dasharray="3.9,2.5"/>
<polyline points="227.40,217.47 230.50,217.53 233.61,217.59 236.71,217.65 239.81,217.70 242.91,217.76 246.02,217.82 249.12,217.89 252.22,217.97 254.44,218.02 256.66,218.08 258.88,218.14 261.10,218.21 263.32,218.28 265.54,218.36 267.76,218.46 269.98,218.56 271.58,218.65 273.17,218.76 274.76,218.89 276.35,219.03 277.94,219.20 279.53,219.39 281.13,219.61 282.72,219.86 284.29,220.20 285.86,220.70 287.44,221.31 289.01,222.01 290.58,222.75 292.16,223.51 293.73,224.25 295.30,224.93 296.07,225.22 296.83,225.51 297.59,225.78 298.35,226.07 299.11,226.36 299.87,226.68 300.63,227.02 301.39,227.41 302.25,227.93 303.11,228.56 303.96,229.26 304.82,230.01 305.68,230.79 306.53,231.56 307.39,232.30 308.25,232.98 308.98,233.51 309.71,234.03 310.44,234.53 311.17,235.03 311.90,235.52 312.64,236.02 313.37,236.53 314.10,237.05 314.62,237.43 315.13,237.81 315.65,238.20 316.17,238.59 316.69,238.99 317.20,239.39 317.72,239.81 318.24,240.23 318.68,240.60 319.12,240.98 319.56,241.37 320.00,241.77 320.44,242.17 320.88,242.58 321.33,242.99 321.77,243.41 322.23,243.87 322.69,244.36 323.15,244.86 323.61,245.37 324.08,245.86 324.54,246.34 325.00,246.79 325.46,247.19 326.43,247.95 327.40,248.66 328.36,249.32 329.33,249.95 330.29,250.54 331.26,251.12 332.23,251.69 333.19,252.26 334.66,253.14 336.13,254.03 337.59,254.91 339.06,255.76 340.53,256.57 341.99,257.31 343.46,257.97 344.93,258.52 346.00,258.87 347.07,259.20 348.14,259.50 349.22,259.77 350.29,260.03 351.36,260.27 352.43,260.50 353.51,260.71 354.47,260.89 355.44,261.07 356.40,261.25 357.37,261.41 358.33,261.56 359.29,261.69 360.26,261.81 361.22,261.90 362.05,261.97 362.87,262.03 363.70,262.08 364.52,262.12 365.35,262.17 366.17,262.21 367.00,262.25 367.82,262.30" fill="none" stroke="#14aff0" stroke-width="1.5" stroke-linejoin="round" stroke-linecap="butt"/>
<path d="M250.44 220.64L252.64 222.84L250.44 225.04L248.24 222.84Z" fill="#fff" stroke="#ff0d0d" stroke-width="1.25"/>
<path d="M273.49 228.39L275.69 230.59L273.49 232.79L271.29 230.59Z" fill="#fff" stroke="#ff0d0d" stroke-width="1.25"/>
<path d="M296.53 260.10L298.73 262.30L296.53 264.50L294.33 262.30Z" fill="#fff" stroke="#ff0d0d" stroke-width="1.25"/>
<path d="M305.25 260.10L307.45 262.30L305.25 264.50L303.05 262.30Z" fill="#fff" stroke="#ff0d0d" stroke-width="1.25"/>
<path d="M250.44 224.12L252.94 226.62L250.44 229.12L247.94 226.62Z" fill="#000" stroke="none" stroke-width="0"/>
<path d="M273.49 234.25L275.99 236.75L273.49 239.25L270.99 236.75Z" fill="#000" stroke="none" stroke-width="0"/>
<path d="M296.53 247.18L299.03 249.68L296.53 252.18L294.03 249.68Z" fill="#000" stroke="none" stroke-width="0"/>
<path d="M305.25 238.33L307.75 240.83L305.25 243.33L302.75 240.83Z" fill="#000" stroke="none" stroke-width="0"/>
<line x1="54.26" y1="393.40" x2="54.26" y2="391.40" stroke="#3a3a3a" stroke-width="0.8"/>
<line x1="67.71" y1="393.40" x2="67.71" y2="391.40" stroke="#3a3a3a" stroke-width="0.8"/>
<line x1="77.26" y1="393.40" x2="77.26" y2="391.40" stroke="#3a3a3a" stroke-width="0.8"/>
<line x1="84.67" y1="393.40" x2="84.67" y2="391.40" stroke="#3a3a3a" stroke-width="0.8"/>
<line x1="90.72" y1="393.40" x2="90.72" y2="391.40" stroke="#3a3a3a" stroke-width="0.8"/>
<line x1="95.84" y1="393.40" x2="95.84" y2="391.40" stroke="#3a3a3a" stroke-width="0.8"/>
<line x1="100.27" y1="393.40" x2="100.27" y2="391.40" stroke="#3a3a3a" stroke-width="0.8"/>
<line x1="104.18" y1="393.40" x2="104.18" y2="391.40" stroke="#3a3a3a" stroke-width="0.8"/>
<line x1="130.68" y1="393.40" x2="130.68" y2="391.40" stroke="#3a3a3a" stroke-width="0.8"/>
<line x1="144.14" y1="393.40" x2="144.14" y2="391.40" stroke="#3a3a3a" stroke-width="0.8"/>
<line x1="153.69" y1="393.40" x2="153.69" y2="391.40" stroke="#3a3a3a" stroke-width="0.8"/>
<line x1="161.09" y1="393.40" x2="161.09" y2="391.40" stroke="#3a3a3a" stroke-width="0.8"/>
<line x1="167.15" y1="393.40" x2="167.15" y2="391.40" stroke="#3a3a3a" stroke-width="0.8"/>
<line x1="172.26" y1="393.40" x2="172.26" y2="391.40" stroke="#3a3a3a" stroke-width="0.8"/>
<line x1="176.69" y1="393.40" x2="176.69" y2="391.40" stroke="#3a3a3a" stroke-width="0.8"/>
<line x1="180.60" y1="393.40" x2="180.60" y2="391.40" stroke="#3a3a3a" stroke-width="0.8"/>
<line x1="31.25" y1="383.47" x2="33.25" y2="383.47" stroke="#3a3a3a" stroke-width="0.8"/>
<line x1="31.25" y1="363.61" x2="33.25" y2="363.61" stroke="#3a3a3a" stroke-width="0.8"/>
<line x1="31.25" y1="343.75" x2="33.25" y2="343.75" stroke="#3a3a3a" stroke-width="0.8"/>
<line x1="31.25" y1="323.89" x2="33.25" y2="323.89" stroke="#3a3a3a" stroke-width="0.8"/>
<line x1="31.25" y1="304.03" x2="33.25" y2="304.03" stroke="#3a3a3a" stroke-width="0.8"/>
<line x1="31.25" y1="393.40" x2="33.25" y2="393.40" stroke="#3a3a3a" stroke-width="0.8"/>
<line x1="31.25" y1="373.54" x2="33.25" y2="373.54" stroke="#3a3a3a" stroke-width="0.8"/>
<line x1="31.25" y1="353.68" x2="33.25" y2="353.68" stroke="#3a3a3a" stroke-width="0.8"/>
<line x1="31.25" y1="333.82" x2="33.25" y2="333.82" stroke="#3a3a3a" stroke-width="0.8"/>
<line x1="31.25" y1="313.96" x2="33.25" y2="313.96" stroke="#3a3a3a" stroke-width="0.8"/>
<line x1="31.25" y1="294.10" x2="33.25" y2="294.10" stroke="#3a3a3a" stroke-width="0.8"/>
<rect x="31.25" y="294.10" width="152.85" height="99.30" fill="none" stroke="#8c8c8c" stroke-width="1.55"/>
<path d="M31.25 393.40H184.10" fill="none" stroke="#5c5c5c" stroke-width="1.45"/>
<text x="31.25" y="406.00" font-size="7.8" text-anchor="middle">10</text>
<text x="107.67" y="406.00" font-size="7.8" text-anchor="middle">100</text>
<text x="184.10" y="406.00" font-size="7.8" text-anchor="middle">1000</text>
<text x="24.20" y="396.00" font-size="7.8" text-anchor="end">0</text>
<text x="24.20" y="376.14" font-size="7.8" text-anchor="end">2</text>
<text x="24.20" y="356.28" font-size="7.8" text-anchor="end">4</text>
<text x="24.20" y="336.42" font-size="7.8" text-anchor="end">6</text>
<text x="24.20" y="316.56" font-size="7.8" text-anchor="end">8</text>
<text x="24.20" y="296.70" font-size="7.8" text-anchor="end">10</text>
<text x="107.67" y="417.00" font-size="7.9" text-anchor="middle" textLength="118.8" lengthAdjust="spacingAndGlyphs">Unrestricted LET in water [keV/μm]</text>
<text x="0.00" y="0.00" font-size="8.7" textLength="15.5" lengthAdjust="spacingAndGlyphs" transform="translate(10.8 351.0) rotate(-90)">RBE</text>
<text x="0.00" y="0.00" font-size="5.3" textLength="11.6" lengthAdjust="spacingAndGlyphs" transform="translate(12.9 335.2) rotate(-90)">50%</text>
<text x="37.20" y="307.50" font-size="7.8" textLength="25.8" lengthAdjust="spacingAndGlyphs"><tspan font-size="5.2" dy="-2.9">12</tspan><tspan dy="2.9">C ions</tspan></text>
<text x="180.20" y="307.70" font-size="8.5" text-anchor="end" font-weight="bold" textLength="11.0" lengthAdjust="spacingAndGlyphs">(E)</text>
<polyline points="31.25,379.80 32.65,379.39 34.04,379.00 35.44,378.61 36.83,378.22 38.23,377.82 39.63,377.41 41.02,376.98 42.42,376.52 43.90,376.00 45.38,375.46 46.86,374.90 48.34,374.31 49.82,373.70 51.30,373.07 52.78,372.42 54.26,371.75 55.94,370.98 57.62,370.18 59.30,369.36 60.99,368.50 62.67,367.61 64.35,366.66 66.03,365.66 67.71,364.60 68.91,363.80 70.10,362.95 71.29,362.05 72.49,361.10 73.68,360.11 74.88,359.07 76.07,357.99 77.26,356.86 78.58,355.53 79.90,354.12 81.23,352.61 82.55,351.04 83.87,349.40 85.19,347.72 86.51,346.00 87.83,344.25 88.71,343.05 89.59,341.82 90.47,340.54 91.35,339.24 92.23,337.91 93.11,336.56 93.99,335.20 94.87,333.82 95.55,332.73 96.22,331.60 96.90,330.44 97.57,329.26 98.25,328.10 98.92,326.97 99.59,325.89 100.27,324.88 101.03,323.83 101.78,322.82 102.54,321.86 103.29,320.93 104.05,320.01 104.81,319.10 105.56,318.18 106.32,317.24 125.09,305.22 133.54,312.17 134.91,313.81 136.27,315.42 137.64,317.03 139.01,318.64 140.37,320.27 141.74,321.93 143.10,323.62 144.47,325.38 145.99,327.44 147.51,329.62 149.03,331.88 150.55,334.17 152.07,336.45 153.59,338.66 155.10,340.78 156.62,342.76 158.48,345.00 160.34,347.12 162.20,349.16 164.06,351.13 165.92,353.07 167.78,355.00 169.64,356.95 171.49,358.94" fill="none" stroke="#111" stroke-width="1.3" stroke-linejoin="round" stroke-linecap="butt" stroke-dasharray="2.5,1.2"/>
<polyline points="31.25,379.50 32.65,379.03 34.04,378.58 35.44,378.13 36.83,377.68 38.23,377.22 39.63,376.75 41.02,376.25 42.42,375.72 43.90,375.13 45.38,374.50 46.86,373.84 48.34,373.16 49.82,372.46 51.30,371.74 52.78,371.00 54.26,370.26 55.94,369.42 57.62,368.58 59.30,367.73 60.99,366.85 62.67,365.93 64.35,364.96 66.03,363.93 67.71,362.82 68.91,361.97 70.10,361.06 71.29,360.10 72.49,359.08 73.68,358.01 74.88,356.88 76.07,355.70 77.26,354.47 78.58,353.03 79.90,351.48 81.23,349.82 82.55,348.08 83.87,346.27 85.19,344.39 86.51,342.45 87.83,340.47 88.71,339.09 89.59,337.62 90.47,336.09 91.35,334.53 92.23,332.94 93.11,331.37 93.99,329.84 94.87,328.36 95.55,327.27 96.22,326.19 96.90,325.14 97.57,324.09 98.25,323.05 98.92,322.01 99.59,320.97 100.27,319.92 101.03,318.74 101.78,317.56 102.54,316.38 103.29,315.20 104.05,314.02 104.81,312.84 105.56,311.66 106.32,310.48 125.09,300.36 133.54,309.00 134.91,310.77 136.27,312.52 137.64,314.27 139.01,316.01 140.37,317.78 141.74,319.57 143.10,321.41 144.47,323.29 145.99,325.50 147.51,327.84 149.03,330.24 150.55,332.68 152.07,335.10 153.59,337.45 155.10,339.68 156.62,341.76 158.48,344.12 160.34,346.34 162.20,348.47 164.06,350.52 165.92,352.54 167.78,354.54 169.64,356.57 171.49,358.64" fill="none" stroke="#ff0d0d" stroke-width="1.4" stroke-linejoin="round" stroke-linecap="butt" stroke-dasharray="3.9,2.5"/>
<polyline points="31.25,379.99 32.65,379.69 34.04,379.40 35.44,379.10 36.83,378.81 38.23,378.51 39.63,378.20 41.02,377.87 42.42,377.51 43.90,377.11 45.38,376.68 46.86,376.22 48.34,375.74 49.82,375.24 51.30,374.73 52.78,374.19 54.26,373.64 55.94,372.99 57.62,372.31 59.30,371.60 60.99,370.86 62.67,370.09 64.35,369.29 66.03,368.45 67.71,367.58 68.91,366.94 70.10,366.29 71.29,365.61 72.49,364.90 73.68,364.15 74.88,363.36 76.07,362.52 77.26,361.62 78.58,360.53 79.90,359.32 81.23,358.01 82.55,356.62 83.87,355.17 85.19,353.69 86.51,352.19 87.83,350.70 88.71,349.70 89.59,348.68 90.47,347.64 91.35,346.58 92.23,345.50 93.11,344.40 93.99,343.29 94.87,342.16 95.55,341.29 96.22,340.40 96.90,339.49 97.57,338.57 98.25,337.65 98.92,336.71 99.59,335.76 100.27,334.81 101.03,333.73 101.78,332.63 102.54,331.52 103.29,330.39 104.05,329.26 104.81,328.13 105.56,327.00 106.32,325.88 125.09,312.17 133.54,315.45 134.91,316.88 136.27,318.29 137.64,319.69 139.01,321.09 140.37,322.51 141.74,323.97 143.10,325.48 144.47,327.07 145.99,328.96 147.51,331.00 149.03,333.13 150.55,335.31 152.07,337.49 153.59,339.62 155.10,341.66 156.62,343.55 158.48,345.70 160.34,347.74 162.20,349.70 164.06,351.61 165.92,353.48 167.78,355.34 169.64,357.22 171.49,359.14" fill="none" stroke="#14aff0" stroke-width="1.5" stroke-linejoin="round" stroke-linecap="butt"/>
<path d="M100.27 336.58L102.47 338.78L100.27 340.98L98.07 338.78Z" fill="#fff" stroke="#ff0d0d" stroke-width="1.25"/>
<path d="M108.98 334.80L111.18 337.00L108.98 339.20L106.78 337.00Z" fill="#fff" stroke="#ff0d0d" stroke-width="1.25"/>
<path d="M100.27 338.27L102.77 340.77L100.27 343.27L97.77 340.77Z" fill="#000" stroke="none" stroke-width="0"/>
<path d="M108.98 339.66L111.48 342.16L108.98 344.66L106.48 342.16Z" fill="#000" stroke="none" stroke-width="0"/>
<path d="M54.26 366.37L56.86 368.97L54.26 371.57L51.66 368.97Z" fill="#000" stroke="none" stroke-width="0"/>
<path d="M54.26 366.57L56.66 368.97L54.26 371.37L51.86 368.97Z" fill="none" stroke="#ff0d0d" stroke-width="0.8"/>
<path d="M76.84 357.34L79.44 359.94L76.84 362.54L74.24 359.94Z" fill="#000" stroke="none" stroke-width="0"/>
<path d="M76.84 357.54L79.24 359.94L76.84 362.34L74.44 359.94Z" fill="none" stroke="#ff0d0d" stroke-width="0.8"/>
<line x1="250.44" y1="393.20" x2="250.44" y2="391.20" stroke="#3a3a3a" stroke-width="0.8"/>
<line x1="263.92" y1="393.20" x2="263.92" y2="391.20" stroke="#3a3a3a" stroke-width="0.8"/>
<line x1="273.49" y1="393.20" x2="273.49" y2="391.20" stroke="#3a3a3a" stroke-width="0.8"/>
<line x1="280.91" y1="393.20" x2="280.91" y2="391.20" stroke="#3a3a3a" stroke-width="0.8"/>
<line x1="286.97" y1="393.20" x2="286.97" y2="391.20" stroke="#3a3a3a" stroke-width="0.8"/>
<line x1="292.09" y1="393.20" x2="292.09" y2="391.20" stroke="#3a3a3a" stroke-width="0.8"/>
<line x1="296.53" y1="393.20" x2="296.53" y2="391.20" stroke="#3a3a3a" stroke-width="0.8"/>
<line x1="300.45" y1="393.20" x2="300.45" y2="391.20" stroke="#3a3a3a" stroke-width="0.8"/>
<line x1="326.99" y1="393.20" x2="326.99" y2="391.20" stroke="#3a3a3a" stroke-width="0.8"/>
<line x1="340.47" y1="393.20" x2="340.47" y2="391.20" stroke="#3a3a3a" stroke-width="0.8"/>
<line x1="350.04" y1="393.20" x2="350.04" y2="391.20" stroke="#3a3a3a" stroke-width="0.8"/>
<line x1="357.46" y1="393.20" x2="357.46" y2="391.20" stroke="#3a3a3a" stroke-width="0.8"/>
<line x1="363.52" y1="393.20" x2="363.52" y2="391.20" stroke="#3a3a3a" stroke-width="0.8"/>
<line x1="368.64" y1="393.20" x2="368.64" y2="391.20" stroke="#3a3a3a" stroke-width="0.8"/>
<line x1="373.08" y1="393.20" x2="373.08" y2="391.20" stroke="#3a3a3a" stroke-width="0.8"/>
<line x1="377.00" y1="393.20" x2="377.00" y2="391.20" stroke="#3a3a3a" stroke-width="0.8"/>
<line x1="227.40" y1="383.28" x2="229.40" y2="383.28" stroke="#3a3a3a" stroke-width="0.8"/>
<line x1="227.40" y1="363.44" x2="229.40" y2="363.44" stroke="#3a3a3a" stroke-width="0.8"/>
<line x1="227.40" y1="343.60" x2="229.40" y2="343.60" stroke="#3a3a3a" stroke-width="0.8"/>
<line x1="227.40" y1="323.76" x2="229.40" y2="323.76" stroke="#3a3a3a" stroke-width="0.8"/>
<line x1="227.40" y1="303.92" x2="229.40" y2="303.92" stroke="#3a3a3a" stroke-width="0.8"/>
<line x1="227.40" y1="393.20" x2="229.40" y2="393.20" stroke="#3a3a3a" stroke-width="0.8"/>
<line x1="227.40" y1="373.36" x2="229.40" y2="373.36" stroke="#3a3a3a" stroke-width="0.8"/>
<line x1="227.40" y1="353.52" x2="229.40" y2="353.52" stroke="#3a3a3a" stroke-width="0.8"/>
<line x1="227.40" y1="333.68" x2="229.40" y2="333.68" stroke="#3a3a3a" stroke-width="0.8"/>
<line x1="227.40" y1="313.84" x2="229.40" y2="313.84" stroke="#3a3a3a" stroke-width="0.8"/>
<line x1="227.40" y1="294.00" x2="229.40" y2="294.00" stroke="#3a3a3a" stroke-width="0.8"/>
<rect x="227.40" y="294.00" width="153.10" height="99.20" fill="none" stroke="#8c8c8c" stroke-width="1.55"/>
<path d="M227.40 393.20H380.50" fill="none" stroke="#5c5c5c" stroke-width="1.45"/>
<text x="227.40" y="406.00" font-size="7.8" text-anchor="middle">10</text>
<text x="303.95" y="406.00" font-size="7.8" text-anchor="middle">100</text>
<text x="380.50" y="406.00" font-size="7.8" text-anchor="middle">1000</text>
<text x="220.60" y="395.80" font-size="7.8" text-anchor="end">0</text>
<text x="220.60" y="375.96" font-size="7.8" text-anchor="end">2</text>
<text x="220.60" y="356.12" font-size="7.8" text-anchor="end">4</text>
<text x="220.60" y="336.28" font-size="7.8" text-anchor="end">6</text>
<text x="220.60" y="316.44" font-size="7.8" text-anchor="end">8</text>
<text x="220.60" y="296.60" font-size="7.8" text-anchor="end">10</text>
<text x="303.95" y="417.00" font-size="7.9" text-anchor="middle" textLength="118.8" lengthAdjust="spacingAndGlyphs">Unrestricted LET in water [keV/μm]</text>
<text x="0.00" y="0.00" font-size="8.7" textLength="15.0" lengthAdjust="spacingAndGlyphs" transform="translate(207.0 351.4) rotate(-90)">RBE</text>
<text x="0.00" y="0.00" font-size="5.3" textLength="12.6" lengthAdjust="spacingAndGlyphs" transform="translate(209.1 336.09999999999997) rotate(-90)">10%</text>
<text x="233.40" y="307.50" font-size="7.8" textLength="25.8" lengthAdjust="spacingAndGlyphs"><tspan font-size="5.2" dy="-2.9">12</tspan><tspan dy="2.9">C ions</tspan></text>
<text x="376.60" y="307.70" font-size="8.5" text-anchor="end" font-weight="bold" textLength="11.0" lengthAdjust="spacingAndGlyphs">(F)</text>
<polyline points="227.40,382.09 228.80,381.92 230.20,381.76 231.59,381.61 232.99,381.45 234.39,381.29 235.79,381.11 237.19,380.92 238.59,380.70 240.07,380.43 241.55,380.11 243.03,379.76 244.51,379.38 246.00,378.99 247.48,378.59 248.96,378.20 250.44,377.82 252.13,377.43 253.81,377.05 255.50,376.68 257.18,376.30 258.87,375.91 260.55,375.50 262.24,375.05 263.92,374.55 265.12,374.16 266.31,373.74 267.51,373.29 268.71,372.81 269.90,372.29 271.10,371.75 272.29,371.18 273.49,370.58 274.81,369.86 276.13,369.05 277.46,368.17 278.78,367.25 280.10,366.29 281.43,365.33 282.75,364.37 284.07,363.44 284.96,362.84 285.84,362.25 286.72,361.65 287.60,361.06 288.48,360.45 289.37,359.82 290.25,359.17 291.13,358.48 291.80,357.90 292.48,357.27 293.15,356.60 293.83,355.91 294.51,355.24 295.18,354.60 295.86,354.02 296.53,353.52 297.29,353.04 298.05,352.60 298.80,352.20 299.56,351.82 300.32,351.46 301.08,351.10 301.84,350.73 302.59,350.35 321.39,343.60 329.86,346.77 331.23,347.87 332.60,348.97 333.96,350.06 335.33,351.16 336.70,352.26 338.07,353.36 339.44,354.48 340.80,355.60 342.33,356.91 343.85,358.27 345.37,359.66 346.89,361.05 348.41,362.41 349.94,363.72 351.46,364.93 352.98,366.02 354.84,367.21 356.70,368.32 358.56,369.34 360.43,370.32 362.29,371.27 364.15,372.21 366.01,373.16 367.87,374.15" fill="none" stroke="#111" stroke-width="1.3" stroke-linejoin="round" stroke-linecap="butt" stroke-dasharray="2.5,1.2"/>
<polyline points="227.40,382.09 228.80,381.91 230.20,381.74 231.59,381.58 232.99,381.41 234.39,381.23 235.79,381.05 237.19,380.84 238.59,380.60 240.07,380.30 241.55,379.94 243.03,379.53 244.51,379.09 246.00,378.64 247.48,378.18 248.96,377.74 250.44,377.33 252.13,376.90 253.81,376.49 255.50,376.10 257.18,375.71 258.87,375.30 260.55,374.87 262.24,374.39 263.92,373.86 265.12,373.43 266.31,372.96 267.51,372.44 268.71,371.89 269.90,371.30 271.10,370.69 272.29,370.05 273.49,369.39 274.81,368.61 276.13,367.75 277.46,366.83 278.78,365.86 280.10,364.88 281.43,363.88 282.75,362.90 284.07,361.95 284.96,361.34 285.84,360.74 286.72,360.15 287.60,359.56 288.48,358.95 289.37,358.33 290.25,357.68 291.13,356.99 291.80,356.43 292.48,355.82 293.15,355.18 293.83,354.52 294.51,353.87 295.18,353.23 295.86,352.61 296.53,352.03 297.29,351.43 298.05,350.85 298.80,350.28 299.56,349.74 300.32,349.20 301.08,348.66 301.84,348.12 302.59,347.57 321.39,342.41 329.86,346.38 331.23,347.53 332.60,348.68 333.96,349.82 335.33,350.97 336.70,352.12 338.07,353.28 339.44,354.44 340.80,355.60 342.33,356.94 343.85,358.33 345.37,359.75 346.89,361.16 348.41,362.54 349.94,363.86 351.46,365.10 352.98,366.22 354.84,367.45 356.70,368.59 358.56,369.65 360.43,370.67 362.29,371.65 364.15,372.63 366.01,373.62 367.87,374.65" fill="none" stroke="#ff0d0d" stroke-width="1.4" stroke-linejoin="round" stroke-linecap="butt" stroke-dasharray="3.9,2.5"/>
<polyline points="227.40,382.09 228.80,381.93 230.20,381.78 231.59,381.63 232.99,381.48 234.39,381.33 235.79,381.17 237.19,380.99 238.59,380.80 240.07,380.57 241.55,380.32 243.03,380.05 244.51,379.76 246.00,379.46 247.48,379.15 248.96,378.83 250.44,378.52 252.13,378.16 253.81,377.80 255.50,377.44 257.18,377.06 258.87,376.67 260.55,376.25 262.24,375.81 263.92,375.34 265.12,374.99 266.31,374.62 267.51,374.23 268.71,373.81 269.90,373.37 271.10,372.90 272.29,372.40 273.49,371.87 274.81,371.22 276.13,370.48 277.46,369.67 278.78,368.81 280.10,367.91 281.43,367.01 282.75,366.11 284.07,365.23 284.96,364.65 285.84,364.06 286.72,363.48 287.60,362.88 288.48,362.29 289.37,361.68 290.25,361.08 291.13,360.46 291.80,359.99 292.48,359.49 293.15,359.00 293.83,358.50 294.51,358.00 295.18,357.52 295.86,357.04 296.53,356.60 297.29,356.11 298.05,355.65 298.80,355.20 299.56,354.77 300.32,354.33 301.08,353.90 301.84,353.47 302.59,353.02 321.39,344.59 329.86,347.07 331.23,348.13 332.60,349.19 333.96,350.24 335.33,351.30 336.70,352.36 338.07,353.43 339.44,354.51 340.80,355.60 342.33,356.87 343.85,358.21 345.37,359.58 346.89,360.95 348.41,362.29 349.94,363.57 351.46,364.76 352.98,365.82 354.84,366.98 356.70,368.04 358.56,369.03 360.43,369.97 362.29,370.88 364.15,371.79 366.01,372.70 367.87,373.66" fill="none" stroke="#14aff0" stroke-width="1.5" stroke-linejoin="round" stroke-linecap="butt"/>
<path d="M250.44 374.73L253.04 377.33L250.44 379.93L247.84 377.33Z" fill="#000" stroke="none" stroke-width="0"/>
<path d="M250.44 374.93L252.84 377.33L250.44 379.73L248.04 377.33Z" fill="none" stroke="#ff0d0d" stroke-width="0.8"/>
<path d="M273.07 370.36L275.67 372.96L273.07 375.56L270.47 372.96Z" fill="#000" stroke="none" stroke-width="0"/>
<path d="M273.07 370.56L275.47 372.96L273.07 375.36L270.67 372.96Z" fill="none" stroke="#ff0d0d" stroke-width="0.8"/>
<path d="M296.53 360.24L299.13 362.84L296.53 365.44L293.93 362.84Z" fill="#000" stroke="none" stroke-width="0"/>
<path d="M296.53 360.44L298.93 362.84L296.53 365.24L294.13 362.84Z" fill="none" stroke="#ff0d0d" stroke-width="0.8"/>
<path d="M305.25 360.24L307.85 362.84L305.25 365.44L302.65 362.84Z" fill="#000" stroke="none" stroke-width="0"/>
<path d="M305.25 360.44L307.65 362.84L305.25 365.24L302.85 362.84Z" fill="none" stroke="#ff0d0d" stroke-width="0.8"/>
<line x1="54.26" y1="524.50" x2="54.26" y2="522.50" stroke="#3a3a3a" stroke-width="0.8"/>
<line x1="67.71" y1="524.50" x2="67.71" y2="522.50" stroke="#3a3a3a" stroke-width="0.8"/>
<line x1="77.26" y1="524.50" x2="77.26" y2="522.50" stroke="#3a3a3a" stroke-width="0.8"/>
<line x1="84.67" y1="524.50" x2="84.67" y2="522.50" stroke="#3a3a3a" stroke-width="0.8"/>
<line x1="90.72" y1="524.50" x2="90.72" y2="522.50" stroke="#3a3a3a" stroke-width="0.8"/>
<line x1="95.84" y1="524.50" x2="95.84" y2="522.50" stroke="#3a3a3a" stroke-width="0.8"/>
<line x1="100.27" y1="524.50" x2="100.27" y2="522.50" stroke="#3a3a3a" stroke-width="0.8"/>
<line x1="104.18" y1="524.50" x2="104.18" y2="522.50" stroke="#3a3a3a" stroke-width="0.8"/>
<line x1="130.68" y1="524.50" x2="130.68" y2="522.50" stroke="#3a3a3a" stroke-width="0.8"/>
<line x1="144.14" y1="524.50" x2="144.14" y2="522.50" stroke="#3a3a3a" stroke-width="0.8"/>
<line x1="153.69" y1="524.50" x2="153.69" y2="522.50" stroke="#3a3a3a" stroke-width="0.8"/>
<line x1="161.09" y1="524.50" x2="161.09" y2="522.50" stroke="#3a3a3a" stroke-width="0.8"/>
<line x1="167.15" y1="524.50" x2="167.15" y2="522.50" stroke="#3a3a3a" stroke-width="0.8"/>
<line x1="172.26" y1="524.50" x2="172.26" y2="522.50" stroke="#3a3a3a" stroke-width="0.8"/>
<line x1="176.69" y1="524.50" x2="176.69" y2="522.50" stroke="#3a3a3a" stroke-width="0.8"/>
<line x1="180.60" y1="524.50" x2="180.60" y2="522.50" stroke="#3a3a3a" stroke-width="0.8"/>
<line x1="31.25" y1="514.54" x2="33.25" y2="514.54" stroke="#3a3a3a" stroke-width="0.8"/>
<line x1="31.25" y1="494.62" x2="33.25" y2="494.62" stroke="#3a3a3a" stroke-width="0.8"/>
<line x1="31.25" y1="474.70" x2="33.25" y2="474.70" stroke="#3a3a3a" stroke-width="0.8"/>
<line x1="31.25" y1="454.78" x2="33.25" y2="454.78" stroke="#3a3a3a" stroke-width="0.8"/>
<line x1="31.25" y1="434.86" x2="33.25" y2="434.86" stroke="#3a3a3a" stroke-width="0.8"/>
<line x1="31.25" y1="524.50" x2="33.25" y2="524.50" stroke="#3a3a3a" stroke-width="0.8"/>
<line x1="31.25" y1="504.58" x2="33.25" y2="504.58" stroke="#3a3a3a" stroke-width="0.8"/>
<line x1="31.25" y1="484.66" x2="33.25" y2="484.66" stroke="#3a3a3a" stroke-width="0.8"/>
<line x1="31.25" y1="464.74" x2="33.25" y2="464.74" stroke="#3a3a3a" stroke-width="0.8"/>
<line x1="31.25" y1="444.82" x2="33.25" y2="444.82" stroke="#3a3a3a" stroke-width="0.8"/>
<line x1="31.25" y1="424.90" x2="33.25" y2="424.90" stroke="#3a3a3a" stroke-width="0.8"/>
<rect x="31.25" y="424.90" width="152.85" height="99.60" fill="none" stroke="#8c8c8c" stroke-width="1.55"/>
<path d="M31.25 524.50H184.10" fill="none" stroke="#5c5c5c" stroke-width="1.45"/>
<text x="31.25" y="537.00" font-size="7.8" text-anchor="middle">10</text>
<text x="107.67" y="537.00" font-size="7.8" text-anchor="middle">100</text>
<text x="184.10" y="537.00" font-size="7.8" text-anchor="middle">1000</text>
<text x="24.20" y="527.10" font-size="7.8" text-anchor="end">0</text>
<text x="24.20" y="507.18" font-size="7.8" text-anchor="end">2</text>
<text x="24.20" y="487.26" font-size="7.8" text-anchor="end">4</text>
<text x="24.20" y="467.34" font-size="7.8" text-anchor="end">6</text>
<text x="24.20" y="447.42" font-size="7.8" text-anchor="end">8</text>
<text x="24.20" y="427.50" font-size="7.8" text-anchor="end">10</text>
<text x="107.67" y="548.00" font-size="7.9" text-anchor="middle" textLength="118.8" lengthAdjust="spacingAndGlyphs">Unrestricted LET in water [keV/μm]</text>
<text x="0.00" y="0.00" font-size="8.7" textLength="15.5" lengthAdjust="spacingAndGlyphs" transform="translate(10.7 479.3) rotate(-90)">RBE</text>
<text x="0.00" y="0.00" font-size="5.3" textLength="8.9" lengthAdjust="spacingAndGlyphs" transform="translate(12.799999999999999 463.5) rotate(-90)">1%</text>
<text x="37.20" y="438.60" font-size="7.8" textLength="25.8" lengthAdjust="spacingAndGlyphs"><tspan font-size="5.2" dy="-2.9">12</tspan><tspan dy="2.9">C ions</tspan></text>
<text x="180.20" y="438.80" font-size="8.5" text-anchor="end" font-weight="bold" textLength="11.0" lengthAdjust="spacingAndGlyphs">(G)</text>
<polyline points="31.25,513.84 32.65,513.70 34.04,513.56 35.44,513.43 36.83,513.29 38.23,513.15 39.63,513.01 41.02,512.86 42.42,512.70 43.90,512.52 45.38,512.33 46.86,512.13 48.34,511.93 49.82,511.72 51.30,511.50 52.78,511.28 54.26,511.05 55.94,510.80 57.62,510.54 59.30,510.28 60.99,510.01 62.67,509.73 64.35,509.43 66.03,509.11 67.71,508.76 68.91,508.50 70.10,508.22 71.29,507.91 72.49,507.59 73.68,507.26 74.88,506.91 76.07,506.55 77.26,506.17 78.58,505.74 79.90,505.29 81.23,504.82 82.55,504.33 83.87,503.81 85.19,503.26 86.51,502.69 87.83,502.09 88.71,501.66 89.59,501.18 90.47,500.68 91.35,500.15 92.23,499.62 93.11,499.10 93.99,498.59 94.87,498.11 95.55,497.75 96.22,497.41 96.90,497.06 97.57,496.73 98.25,496.40 98.92,496.07 99.59,495.74 100.27,495.42 101.03,495.06 101.78,494.70 102.54,494.35 103.29,494.01 104.05,493.66 104.81,493.32 105.56,492.98 106.32,492.63 125.09,487.85 133.54,490.34 134.91,491.14 136.27,491.94 137.64,492.74 139.01,493.54 140.37,494.35 141.74,495.16 143.10,495.98 144.47,496.81 145.99,497.78 147.51,498.79 149.03,499.83 150.55,500.87 152.07,501.89 153.59,502.87 155.10,503.77 156.62,504.58 158.48,505.46 160.34,506.27 162.20,507.03 164.06,507.75 165.92,508.44 167.78,509.13 169.64,509.83 171.49,510.56" fill="none" stroke="#111" stroke-width="1.3" stroke-linejoin="round" stroke-linecap="butt" stroke-dasharray="2.5,1.2"/>
<polyline points="31.25,513.84 32.65,513.70 34.04,513.55 35.44,513.42 36.83,513.27 38.23,513.13 39.63,512.98 41.02,512.82 42.42,512.65 43.90,512.45 45.38,512.23 46.86,512.00 48.34,511.76 49.82,511.51 51.30,511.26 52.78,511.01 54.26,510.76 55.94,510.48 57.62,510.20 59.30,509.93 60.99,509.65 62.67,509.36 64.35,509.06 66.03,508.73 67.71,508.36 68.91,508.08 70.10,507.78 71.29,507.45 72.49,507.11 73.68,506.74 74.88,506.37 76.07,505.98 77.26,505.58 78.58,505.12 79.90,504.65 81.23,504.17 82.55,503.66 83.87,503.12 85.19,502.55 86.51,501.94 87.83,501.29 88.71,500.81 89.59,500.26 90.47,499.66 91.35,499.04 92.23,498.41 93.11,497.80 93.99,497.23 94.87,496.71 95.55,496.35 96.22,496.01 96.90,495.68 97.57,495.36 98.25,495.05 98.92,494.74 99.59,494.44 100.27,494.12 101.03,493.77 101.78,493.42 102.54,493.07 103.29,492.72 104.05,492.37 104.81,492.03 105.56,491.68 106.32,491.33 125.09,487.25 133.54,490.14 134.91,491.01 136.27,491.88 137.64,492.74 139.01,493.61 140.37,494.48 141.74,495.35 143.10,496.23 144.47,497.11 145.99,498.12 147.51,499.17 149.03,500.24 150.55,501.31 152.07,502.34 153.59,503.33 155.10,504.25 156.62,505.08 158.48,505.98 160.34,506.80 162.20,507.57 164.06,508.30 165.92,509.00 167.78,509.70 169.64,510.41 171.49,511.15" fill="none" stroke="#ff0d0d" stroke-width="1.4" stroke-linejoin="round" stroke-linecap="butt" stroke-dasharray="3.9,2.5"/>
<polyline points="31.25,513.84 32.65,513.71 34.04,513.57 35.44,513.44 36.83,513.31 38.23,513.17 39.63,513.03 41.02,512.89 42.42,512.75 43.90,512.59 45.38,512.43 46.86,512.26 48.34,512.09 49.82,511.91 51.30,511.73 52.78,511.55 54.26,511.35 55.94,511.13 57.62,510.90 59.30,510.66 60.99,510.41 62.67,510.15 64.35,509.88 66.03,509.58 67.71,509.26 68.91,509.01 70.10,508.74 71.29,508.45 72.49,508.14 73.68,507.82 74.88,507.48 76.07,507.13 77.26,506.77 78.58,506.35 79.90,505.91 81.23,505.44 82.55,504.96 83.87,504.46 85.19,503.94 86.51,503.42 87.83,502.89 88.71,502.53 89.59,502.16 90.47,501.78 91.35,501.40 92.23,501.01 93.11,500.61 93.99,500.21 94.87,499.80 95.55,499.48 96.22,499.15 96.90,498.81 97.57,498.46 98.25,498.12 98.92,497.78 99.59,497.44 100.27,497.11 101.03,496.75 101.78,496.40 102.54,496.05 103.29,495.70 104.05,495.36 104.81,495.01 105.56,494.67 106.32,494.32 125.09,488.44 133.54,490.64 134.91,491.35 136.27,492.06 137.64,492.76 139.01,493.46 140.37,494.17 141.74,494.90 143.10,495.64 144.47,496.41 145.99,497.33 147.51,498.32 149.03,499.34 150.55,500.38 152.07,501.41 153.59,502.38 155.10,503.28 156.62,504.08 158.48,504.94 160.34,505.73 162.20,506.46 164.06,507.15 165.92,507.82 167.78,508.48 169.64,509.16 171.49,509.86" fill="none" stroke="#14aff0" stroke-width="1.5" stroke-linejoin="round" stroke-linecap="butt"/>
<path d="M54.26 508.75L56.86 511.35L54.26 513.95L51.66 511.35Z" fill="#000" stroke="none" stroke-width="0"/>
<path d="M54.26 508.95L56.66 511.35L54.26 513.75L51.86 511.35Z" fill="none" stroke="#ff0d0d" stroke-width="0.8"/>
<path d="M76.84 506.16L79.44 508.76L76.84 511.36L74.24 508.76Z" fill="#000" stroke="none" stroke-width="0"/>
<path d="M76.84 506.36L79.24 508.76L76.84 511.16L74.44 508.76Z" fill="none" stroke="#ff0d0d" stroke-width="0.8"/>
<path d="M100.27 499.69L102.87 502.29L100.27 504.89L97.67 502.29Z" fill="#000" stroke="none" stroke-width="0"/>
<path d="M100.27 499.89L102.67 502.29L100.27 504.69L97.87 502.29Z" fill="none" stroke="#ff0d0d" stroke-width="0.8"/>
<path d="M108.98 499.69L111.58 502.29L108.98 504.89L106.38 502.29Z" fill="#000" stroke="none" stroke-width="0"/>
<path d="M108.98 499.89L111.38 502.29L108.98 504.69L106.58 502.29Z" fill="none" stroke="#ff0d0d" stroke-width="0.8"/>
<text x="215.30" y="438.80" font-size="7.9" textLength="41.3" lengthAdjust="spacingAndGlyphs"><tspan font-style="italic">in vitro</tspan> results</text>
<path d="M217.40 448.50L219.80 450.90L217.40 453.30L215.00 450.90Z" fill="#000" stroke="none" stroke-width="0"/>
<text x="229.10" y="452.30" font-size="7.2" textLength="39.3" lengthAdjust="spacingAndGlyphs">original article</text>
<path d="M217.40 462.90L219.60 465.10L217.40 467.30L215.20 465.10Z" fill="#fff" stroke="#ff0d0d" stroke-width="1.25"/>
<text x="229.10" y="466.80" font-size="7.2" textLength="80.2" lengthAdjust="spacingAndGlyphs">reanalysis by the PIDE team</text>
<text x="215.10" y="485.60" font-size="8.3" textLength="163.6" lengthAdjust="spacingAndGlyphs">MCF MKM predictions based on α<tspan font-size="5.2" dy="2.4">ref</tspan><tspan dy="-2.4"> and β</tspan><tspan font-size="5.2" dy="2.4">ref</tspan><tspan dy="-2.4"> from</tspan></text>
<line x1="212.20" y1="497.20" x2="223.10" y2="497.20" stroke="#111" stroke-width="1.4" stroke-dasharray="2.5,1.2"/>
<text x="228.20" y="498.40" font-size="7.2" textLength="47.9" lengthAdjust="spacingAndGlyphs">original article fit</text>
<line x1="212.40" y1="511.30" x2="223.10" y2="511.30" stroke="#ff0d0d" stroke-width="1.4" stroke-dasharray="3.9,2.5"/>
<text x="228.20" y="513.60" font-size="7.2" textLength="41.3" lengthAdjust="spacingAndGlyphs">PIDE team fit</text>
<line x1="212.20" y1="525.50" x2="223.10" y2="525.50" stroke="#14aff0" stroke-width="1.5"/>
<text x="228.20" y="528.70" font-size="7.2" textLength="44.5" lengthAdjust="spacingAndGlyphs">MKM-based fit</text>
</svg></body></html>
